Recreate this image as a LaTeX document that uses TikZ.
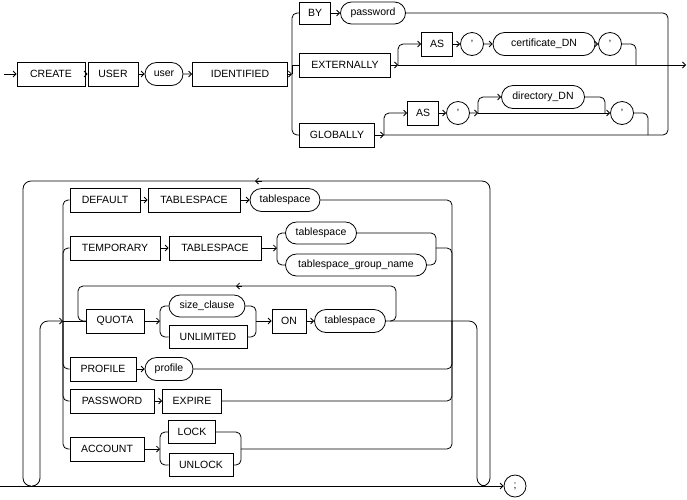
\documentclass[tikz,border=0pt]{standalone}
\usepackage{fontspec}
\setmainfont{Liberation Sans}
\usetikzlibrary{arrows.meta,shapes.misc}
\begin{document}
\begin{tikzpicture}[x=1pt,y=-1pt,line width=0.8pt,
  >={Straight Barb[length=3pt,width=6pt]},
  kw/.style={draw,rectangle,minimum height=24pt,inner sep=0pt,font=\fontsize{10.5}{12}\selectfont},
  ov/.style={draw,rounded rectangle,minimum height=23pt,inner sep=0pt,font=\fontsize{10.5}{12}\selectfont},
  arr/.style={->},
  rc/.style={rounded corners=5pt}]
\useasboundingbox (0,0) rectangle (687,499);
% ---------- top ----------
\coordinate (s) at (4,74);
\node[kw,minimum width=68pt] (create) at (51,74) {CREATE};
\node[kw,minimum width=50pt] (user) at (113,74) {USER};
\node[ov,minimum width=38pt] (userv) at (164,74) {user};
\node[kw,minimum width=95pt] (ident) at (240,74) {IDENTIFIED};
\coordinate (bl) at (292,74);
\draw[arr] (s) -- (create);
\draw[arr] (create) -- (user);
\draw[arr] (user) -- (userv);
\draw[arr] (userv) -- (ident);
\draw[arr] (ident) -- (bl);
\node[kw,minimum width=31pt,minimum height=22pt] (by) at (315,13) {BY};
\node[ov,minimum width=65pt,minimum height=22pt] (pw) at (373,13) {password};
\node[kw,minimum width=91pt] (ext) at (345,65) {EXTERNALLY};
\node[kw,minimum width=75pt] (glob) at (337,135) {GLOBALLY};
\draw[rc] (bl) |- (by);
\draw (bl) |- (ext);
\draw[rc] (bl) |- (glob);
\draw[arr] (by) -- (pw);
\coordinate (rb) at (668,65);
\coordinate (endA) at (686,65);
\draw[rc] (pw) -| (rb);
\coordinate (b1) at (398,65);
\draw[arr] (ext) -- (b1);
\draw[arr] (b1) -- (endA);
\node[kw,minimum width=31pt] (as1) at (437,44) {AS};
\node[ov,minimum width=19pt] (q1) at (472,44) {'};
\node[ov,minimum width=102pt] (cert) at (544,44) {certificate\_DN};
\node[ov,minimum width=19pt] (q2) at (610,44) {'};
\draw[arr,rc] (b1) |- (as1);
\draw[arr] (as1) -- (q1);
\draw[arr] (q1) -- (cert);
\draw[arr] (cert) -- (q2);
\draw[rc] (q2) -| (636,65);
\coordinate (b2) at (384,135);
\draw[arr] (glob) -- (b2);
\draw[rc] (b2) -| (rb);
\node[kw,minimum width=31pt] (as2) at (423,113) {AS};
\node[ov,minimum width=19pt] (q3) at (458,113) {'};
\coordinate (b3) at (478,113);
\node[ov,minimum width=83pt] (dir) at (543,97) {directory\_DN};
\node[ov,minimum width=19pt] (q4) at (622,113) {'};
\draw[arr,rc] (b2) |- (as2);
\draw[arr] (as2) -- (q3);
\draw[arr] (q3) -- (b3);
\draw[arr,rc] (b3) |- (dir);
\draw[arr] (b3) -- (q4);
\draw[rc] (dir) -| (605,113);
\draw[rc] (q4) -| (648,135);
% ---------- bottom ----------
\coordinate (s2) at (0,486);
\node[ov,minimum width=15pt,minimum height=22pt] (semi) at (515,486) {;};
\draw[arr] (s2) -- (semi);
\draw[rounded corners=8pt] (482,486) -| (490,181) -| (23,486) -- (31,486);
\draw[arr] (262,181) -- (255,181);
\coordinate (il) at (63,321);
\coordinate (ir) at (452,321);
\draw[arr,rounded corners=8pt] (32,486) -| (40,321) -- (il);
\draw[rounded corners=8pt] (ir) -| (477,486) -- (484,486);
% rows
\node[kw,minimum width=70pt] (default) at (105,200) {DEFAULT};
\node[kw,minimum width=92pt] (ts1) at (194,200) {TABLESPACE};
\node[ov,minimum width=70pt] (tsp1) at (285,200) {tablespace};
\draw[rc] (il) |- (default);
\draw[arr] (default) -- (ts1);
\draw[arr] (ts1) -- (tsp1);
\draw[rc] (tsp1) -| (ir);
\node[kw,minimum width=90pt] (temp) at (115,248) {TEMPORARY};
\node[kw,minimum width=92pt] (ts2) at (215,248) {TABLESPACE};
\coordinate (b4) at (277,248);
\node[ov,minimum width=71pt,minimum height=22pt] (tsp2) at (321,233) {tablespace};
\node[ov,minimum width=141pt,minimum height=22pt] (tgn) at (356,265) {tablespace\_group\_name};
\coordinate (j4) at (436,248);
\draw[rc] (il) |- (temp);
\draw[arr] (temp) -- (ts2);
\draw[arr] (ts2) -- (b4);
\draw[rc] (b4) |- (tsp2);
\draw[rc] (b4) |- (tgn);
\draw[rc] (tsp2) -| (j4);
\draw[rc] (tgn) -| (j4);
\draw[rc] (j4) -| (ir);
\node[kw,minimum width=58pt] (quota) at (115,321) {QUOTA};
\coordinate (b5) at (160,321);
\node[ov,minimum width=76pt,minimum height=22pt] (size) at (207,306) {size\_clause};
\node[kw,minimum width=78pt,minimum height=23pt] (unl) at (208,337) {UNLIMITED};
\coordinate (j5) at (256,321);
\node[kw,minimum width=34pt] (on) at (289,321) {ON};
\node[ov,minimum width=71pt] (tsp3) at (350,321) {tablespace};
\draw (il) -- (quota);
\draw[arr] (quota) -- (b5);
\draw[rc] (b5) |- (size);
\draw[rc] (b5) |- (unl);
\draw[rc] (size) -| (j5);
\draw[rc] (unl) -| (j5);
\draw[arr] (j5) -- (on);
\draw[arr] (on) -- (tsp3);
\draw (tsp3) -- (ir);
\draw[rc] (390,321) -- (396,321) |- (78,286) -- (78,321) -- (86,321);
\draw[arr] (242,286) -- (236,286);
\node[kw,minimum width=66pt] (profile) at (103,369) {PROFILE};
\node[ov,minimum width=48pt] (prof) at (169,369) {profile};
\draw[rc] (il) |- (profile);
\draw[arr] (profile) -- (prof);
\draw[rc] (prof) -| (ir);
\node[kw,minimum width=84pt] (pwd) at (112,401) {PASSWORD};
\node[kw,minimum width=59pt] (expire) at (192,401) {EXPIRE};
\draw[rc] (il) |- (pwd);
\draw[arr] (pwd) -- (expire);
\draw[rc] (expire) -| (ir);
\node[kw,minimum width=74pt] (account) at (107,449) {ACCOUNT};
\coordinate (b6) at (160,449);
\node[kw,minimum width=47pt,minimum height=23pt] (lock) at (192,432) {LOCK};
\node[kw,minimum width=64pt,minimum height=23pt] (unlock) at (201,465) {UNLOCK};
\coordinate (j6) at (241,449);
\draw[rc] (il) |- (account);
\draw[arr] (account) -- (b6);
\draw[rc] (b6) |- (lock);
\draw[rc] (b6) |- (unlock);
\draw[rc] (lock) -| (j6);
\draw[rc] (unlock) -| (j6);
\draw[rc] (j6) -| (ir);
\end{tikzpicture}
\end{document}
